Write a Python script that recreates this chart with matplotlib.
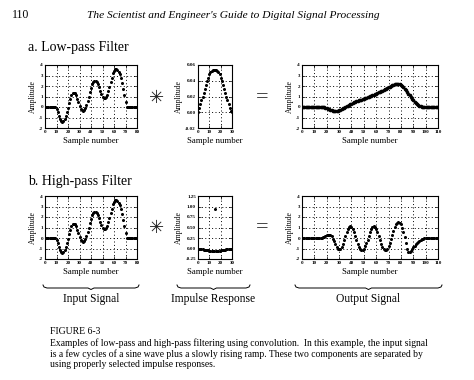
import numpy as np
import matplotlib

matplotlib.use("Agg")
import matplotlib.pyplot as plt

# ---- data ----
input_signal = [
    0, 0, 0, 0, 0, 0, 0, 0, 0, 0,
    -0.2, -0.5, -0.85, -1.15, -1.35, -1.4, -1.35, -1.15, -0.85, -0.45,
    -0.05, 0.4, 0.8, 1.1, 1.3, 1.35, 1.3, 1.1, 0.8, 0.45,
    0.1, -0.15, -0.3, -0.35, -0.3, -0.1, 0.2, 0.6, 1.0, 1.45,
    1.85, 2.2, 2.4, 2.5, 2.5, 2.4, 2.2, 1.9, 1.55, 1.25,
    1.0, 0.9, 0.85, 0.95, 1.15, 1.5, 1.9, 2.35, 2.8, 3.2,
    3.45, 3.6, 3.65, 3.55, 3.35, 3.1, 2.8, 2.3, 1.7, 1.1,
    0.5, 0, 0, 0, 0, 0, 0, 0, 0, 0,
    0,
]

lowpass_kernel = [
    0.0, 0.005, 0.01, 0.015, 0.02, 0.025, 0.03, 0.035, 0.04, 0.044,
    0.048, 0.051, 0.053, 0.054, 0.054, 0.054, 0.054, 0.053, 0.051, 0.048,
    0.044, 0.04, 0.035, 0.03, 0.025, 0.02, 0.015, 0.01, 0.005, 0.002,
    0.0,
]

highpass_kernel = [
    0.0, -0.005, -0.01, -0.015, -0.02, -0.025, -0.03, -0.035, -0.04, -0.044,
    -0.048, -0.051, -0.053, -0.054, -0.054, 0.94, -0.054, -0.053, -0.051, -0.048,
    -0.044, -0.04, -0.035, -0.03, -0.025, -0.02, -0.015, -0.01, -0.005, -0.002,
    0.0,
]

lowpass_output = [
    0, 0, 0, 0, 0, 0, 0, 0, 0, 0,
    0, 0, 0, 0, 0, 0, 0, -0.01, -0.03, -0.06,
    -0.1, -0.15, -0.2, -0.25, -0.3, -0.34, -0.37, -0.38, -0.38, -0.36,
    -0.32, -0.26, -0.2, -0.13, -0.06, 0.0, 0.06, 0.12, 0.19, 0.26,
    0.33, 0.38, 0.44, 0.49, 0.54, 0.58, 0.62, 0.66, 0.7, 0.74,
    0.78, 0.83, 0.87, 0.92, 0.97, 1.02, 1.07, 1.12, 1.17, 1.22,
    1.28, 1.33, 1.39, 1.45, 1.51, 1.57, 1.63, 1.69, 1.75, 1.81,
    1.87, 1.93, 1.99, 2.05, 2.1, 2.15, 2.18, 2.2, 2.2, 2.17,
    2.1, 2.0, 1.88, 1.74, 1.58, 1.42, 1.26, 1.1, 0.94, 0.79,
    0.65, 0.52, 0.4, 0.3, 0.21, 0.14, 0.08, 0.04, 0.02, 0.01,
    0, 0, 0, 0, 0, 0, 0, 0, 0, 0,
    0,
]

highpass_output = [
    0, 0, 0, 0, 0, 0, 0, 0, 0, 0,
    0, 0, 0, 0, 0, 0.0, 0.02, 0.06, 0.12, 0.2,
    0.27, 0.31, 0.32, 0.27, 0.15, -0.05, -0.3, -0.6, -0.85, -1.02,
    -1.08, -1.02, -0.85, -0.55, -0.2, 0.2, 0.55, 0.85, 1.03, 1.1,
    1.03, 0.85, 0.55, 0.2, -0.2, -0.55, -0.85, -1.03, -1.1, -1.1,
    -1.0, -0.8, -0.5, -0.15, 0.2, 0.55, 0.85, 1.03, 1.1, 1.03,
    0.85, 0.55, 0.2, -0.2, -0.55, -0.85, -1.03, -1.1, -1.1, -1.0,
    -0.8, -0.5, -0.1, 0.3, 0.7, 1.05, 1.3, 1.45, 1.5, 1.45,
    1.3, 1.0, 0.6, 0.1, -0.45, -1.0, -1.3, -1.3, -1.2, -1.05,
    -0.9, -0.75, -0.6, -0.47, -0.35, -0.25, -0.16, -0.1, -0.05, -0.02,
    -0.01, 0, 0, 0, 0, 0, 0, 0, 0, 0,
    0,
]

signal_yticks = [-2, -1, 0, 1, 2, 3, 4]
lp_kernel_yticks = [-0.02, 0.0, 0.02, 0.04, 0.06]
hp_kernel_yticks = [-0.25, 0.0, 0.25, 0.5, 0.75, 1.0, 1.25]

caption_lines = [
    "Examples of low-pass and high-pass filtering using convolution.  In this example, the input signal",
    "is a few cycles of a sine wave plus a slowly rising ramp. These two components are separated by",
    "using properly selected impulse responses.",
]

SERIF = "Liberation Serif"
W, H = 474, 380

fig = plt.figure(figsize=(4.74, 3.8), dpi=100)
fig.patch.set_facecolor("white")


def box(x0, y0, x1, y1):
    # pixel box (top-left origin) -> figure fraction rect
    return [x0 / W, 1 - y1 / H, (x1 - x0) / W, (y1 - y0) / H]


def panel(rect, y, xmax, yticks, yfmt, ms=2.2):
    ax = fig.add_axes(rect)
    n = np.arange(len(y))
    ax.plot(n, y, "o", color="black", markersize=ms, markeredgewidth=0)
    ax.set_xlim(0, xmax)
    ax.set_ylim(yticks[0], yticks[-1])
    ax.set_xticks(np.arange(0, xmax + 1, 10))
    ax.set_yticks(yticks)
    ax.set_yticklabels([yfmt.format(v) for v in yticks])
    ax.grid(True, linestyle=(0, (1, 2.5)), color="black", linewidth=0.7)
    ax.tick_params(labelsize=3.6, length=2, width=0.5, pad=1.5, direction="in",
                   top=True, right=True)
    for lab in ax.get_xticklabels() + ax.get_yticklabels():
        lab.set_family(SERIF)
        lab.set_fontweight("bold")
    for s in ax.spines.values():
        s.set_linewidth(0.8)
    ax.set_xlabel("Sample number", fontsize=6.3, family=SERIF, labelpad=2)
    ax.set_ylabel("Amplitude", fontsize=5.5, family=SERIF, labelpad=1.5)
    return ax


top = (65, 128)
bot = (196, 259)

# row a: low-pass
panel(box(45, top[0], 137, top[1]), input_signal, 80, signal_yticks, "{:g}")
panel(box(198, top[0], 232, top[1]), lowpass_kernel, 30, lp_kernel_yticks, "{:.2f}")
panel(box(302, top[0], 438, top[1]), lowpass_output, 110, signal_yticks, "{:g}", ms=2.6)

# row b: high-pass
panel(box(45, bot[0], 137, bot[1]), input_signal, 80, signal_yticks, "{:g}")
panel(box(198, bot[0], 232, bot[1]), highpass_kernel, 30, hp_kernel_yticks, "{:.2f}")
panel(box(302, bot[0], 438, bot[1]), highpass_output, 110, signal_yticks, "{:g}")

# overlay in pixel coordinates for page text and braces
ov = fig.add_axes([0, 0, 1, 1], zorder=-1)
ov.set_xlim(0, W)
ov.set_ylim(H, 0)
ov.axis("off")

ov.text(12, 15, "110", fontsize=8.5, family=SERIF, va="center", ha="left")
ov.text(233, 15, "The Scientist and Engineer's Guide to Digital Signal Processing",
        fontsize=8.2, family=SERIF, style="italic", va="center", ha="center")
ov.text(28, 47, "a. Low-pass Filter", fontsize=10, family=SERIF, va="center")
ov.text(28, 181, "b. High-pass Filter", fontsize=10, family=SERIF, va="center")

for yc in (98, 228):
    ov.text(157, yc, "\u2733", fontsize=13, family="DejaVu Sans", ha="center",
            va="center", color="#222222")
    ov.text(262, yc, "=", fontsize=16, family=SERIF, ha="center", va="center",
            color="#222222")

braces = [(43, 139, "Input Signal"), (177, 250, "Impulse Response"),
          (295, 442, "Output Signal")]
yb = 288
for x0, x1, label in braces:
    xm = (x0 + x1) / 2
    xs = [x0, x0 + 1, x0 + 4, xm - 3, xm, xm + 3, x1 - 4, x1 - 1, x1]
    ys = [yb - 3, yb - 1, yb, yb, yb + 1.5, yb, yb, yb - 1, yb - 3]
    ov.plot(xs, ys, color="black", linewidth=0.7)
    ov.text(xm, 299, label, fontsize=8.3, family=SERIF, ha="center", va="center")

ov.text(50, 332, "FIGURE 6-3", fontsize=7, family=SERIF, va="center")
for i, line in enumerate(caption_lines):
    ov.text(50, 343.5 + i * 10.5, line, fontsize=6.9, family=SERIF, va="center")

fig.savefig("out.png", dpi=100)
